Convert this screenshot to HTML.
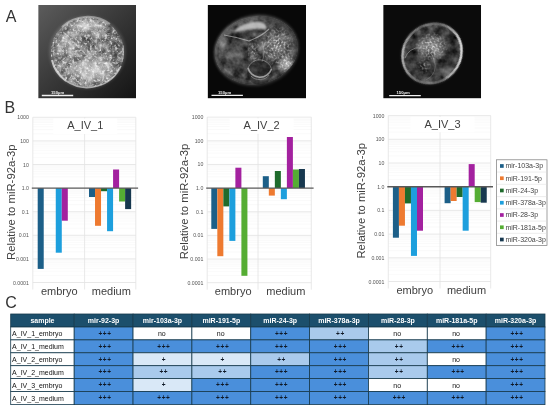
<!DOCTYPE html>
<html><head><meta charset="utf-8"><title>Figure</title>
<style>
html,body{margin:0;padding:0;background:#fff;}
body{width:550px;height:410px;overflow:hidden;}
svg{display:block;font-family:"Liberation Sans",Arial,sans-serif;}
</style></head><body>
<svg width="550" height="410" viewBox="0 0 550 410">
<defs>
<linearGradient id="bg1" x1="0" y1="0" x2="1" y2="1">
<stop offset="0" stop-color="#5c5c5c"/><stop offset="0.45" stop-color="#3a3a3a"/><stop offset="1" stop-color="#141414"/>
</linearGradient>
<radialGradient id="e1g" cx="0.5" cy="0.55" r="0.5">
<stop offset="0" stop-color="#8a8a8a"/><stop offset="0.6" stop-color="#868686"/><stop offset="0.9" stop-color="#7a7a7a"/><stop offset="1" stop-color="#6a6a6a"/>
</radialGradient>
<radialGradient id="e2g" cx="0.5" cy="0.5" r="0.5">
<stop offset="0" stop-color="#484848"/><stop offset="0.7" stop-color="#3c3c3c"/><stop offset="0.9" stop-color="#4a4a4a"/><stop offset="1" stop-color="#151515"/>
</radialGradient>
<radialGradient id="e3g" cx="0.5" cy="0.5" r="0.5">
<stop offset="0" stop-color="#3e3e3e"/><stop offset="0.75" stop-color="#343434"/><stop offset="0.92" stop-color="#484848"/><stop offset="1" stop-color="#222"/>
</radialGradient>
<radialGradient id="glow" cx="0.5" cy="0.5" r="0.5">
<stop offset="0" stop-color="#fff" stop-opacity="0.75"/><stop offset="0.6" stop-color="#fff" stop-opacity="0.35"/><stop offset="1" stop-color="#fff" stop-opacity="0"/>
</radialGradient>
<radialGradient id="shade" cx="0.5" cy="0.5" r="0.5">
<stop offset="0" stop-color="#000" stop-opacity="0.5"/><stop offset="1" stop-color="#000" stop-opacity="0"/>
</radialGradient>
<filter id="tex" x="-5%" y="-5%" width="110%" height="110%" color-interpolation-filters="sRGB">
<feTurbulence type="fractalNoise" baseFrequency="0.16" numOctaves="3" seed="7" result="n"/>
<feColorMatrix in="n" type="matrix" values="0.7 0 0 0 0.15  0.7 0 0 0 0.15  0.7 0 0 0 0.15  0 0 0 0 1" result="g"/>
<feComposite in="g" in2="SourceGraphic" operator="in" result="gi"/>
<feBlend in="gi" in2="SourceGraphic" mode="overlay" result="ov"/>
<feTurbulence type="fractalNoise" baseFrequency="0.4" numOctaves="3" seed="3" result="n2"/>
<feColorMatrix in="n2" type="matrix" values="2.0 0 0 0 -0.95  2.0 0 0 0 -0.95  2.0 0 0 0 -0.95  0 0 0 0 1" result="sp"/>
<feComposite in="sp" in2="SourceGraphic" operator="in" result="spi"/>
<feBlend in="spi" in2="ov" mode="screen"/>
</filter>
<filter id="tex2" x="-5%" y="-5%" width="110%" height="110%" color-interpolation-filters="sRGB">
<feTurbulence type="fractalNoise" baseFrequency="0.18" numOctaves="3" seed="11" result="n"/>
<feColorMatrix in="n" type="matrix" values="1.0 0 0 0 0.0  1.0 0 0 0 0.0  1.0 0 0 0 0.0  0 0 0 0 1" result="g"/>
<feComposite in="g" in2="SourceGraphic" operator="in" result="gi"/>
<feBlend in="gi" in2="SourceGraphic" mode="overlay" result="ov"/>
<feTurbulence type="fractalNoise" baseFrequency="0.45" numOctaves="3" seed="5" result="n2"/>
<feColorMatrix in="n2" type="matrix" values="2.6 0 0 0 -1.3  2.6 0 0 0 -1.3  2.6 0 0 0 -1.3  0 0 0 0 1" result="sp"/>
<feComposite in="sp" in2="SourceGraphic" operator="in" result="spi"/>
<feBlend in="spi" in2="ov" mode="screen"/>
</filter>
<filter id="soft" x="-5%" y="-5%" width="110%" height="110%" color-interpolation-filters="sRGB">
<feTurbulence type="fractalNoise" baseFrequency="0.12" numOctaves="3" seed="21" result="n"/>
<feColorMatrix in="n" type="matrix" values="1.1 0 0 0 -0.05  1.1 0 0 0 -0.05  1.1 0 0 0 -0.05  0 0 0 0 1" result="g"/>
<feComposite in="g" in2="SourceGraphic" operator="in" result="gi"/>
<feBlend in="gi" in2="SourceGraphic" mode="overlay"/>
</filter>
<filter id="speck" x="-5%" y="-5%" width="110%" height="110%" color-interpolation-filters="sRGB">
<feTurbulence type="fractalNoise" baseFrequency="0.5" numOctaves="3" seed="9" result="n"/>
<feColorMatrix in="n" type="matrix" values="0 0 0 0 1  0 0 0 0 1  0 0 0 0 1  3.2 0 0 0 -1.35" result="a"/>
<feComposite in="a" in2="SourceGraphic" operator="in"/>
</filter>
<clipPath id="ce2"><ellipse cx="256.4" cy="50.3" rx="41.8" ry="33.8" transform="rotate(-12 256.4 50.3)"/></clipPath>
<clipPath id="ce3"><ellipse cx="432" cy="53.5" rx="29.2" ry="31.8" transform="rotate(42 432 53.5)"/></clipPath>
<linearGradient id="rim3" x1="0" y1="1" x2="1" y2="0">
<stop offset="0" stop-color="#fff" stop-opacity="0.85"/><stop offset="0.3" stop-color="#fff" stop-opacity="0.3"/><stop offset="0.6" stop-color="#fff" stop-opacity="0.25"/><stop offset="0.85" stop-color="#fff" stop-opacity="0.8"/><stop offset="1" stop-color="#fff" stop-opacity="0.8"/>
</linearGradient>
<linearGradient id="rim2" x1="0" y1="0" x2="1" y2="1">
<stop offset="0" stop-color="#fff" stop-opacity="0.5"/><stop offset="0.4" stop-color="#fff" stop-opacity="0.2"/><stop offset="1" stop-color="#fff" stop-opacity="0.12"/>
</linearGradient>
<filter id="b15" x="-30%" y="-30%" width="160%" height="160%"><feGaussianBlur stdDeviation="1.1"/></filter>
<filter id="b1" x="-20%" y="-20%" width="140%" height="140%"><feGaussianBlur stdDeviation="0.7"/></filter>
<filter id="b2" x="-30%" y="-30%" width="160%" height="160%"><feGaussianBlur stdDeviation="1.6"/></filter>
<clipPath id="c1"><rect x="38.2" y="4.9" width="97.8" height="93.5"/></clipPath>
<clipPath id="c2"><rect x="207.6" y="4.9" width="98.4" height="93.5"/></clipPath>
<clipPath id="c3"><rect x="383.2" y="4.9" width="97.9" height="93.5"/></clipPath>
</defs>
<rect width="550" height="410" fill="#fff"/>
<text x="5.7" y="21.8" font-size="16" fill="#333">A</text>
<text x="4.6" y="112.6" font-size="16" fill="#333">B</text>
<text x="5.2" y="307.6" font-size="16" fill="#333">C</text>
<g clip-path="url(#c1)">
<rect x="38.2" y="4.9" width="97.8" height="93.5" fill="url(#bg1)"/>
<ellipse cx="87.4" cy="52.2" rx="38" ry="36.3" fill="#fff" opacity="0.18" filter="url(#b2)"/>
<g filter="url(#tex)">
<ellipse cx="87.4" cy="52.2" rx="36.6" ry="34.9" fill="url(#e1g)"/>
<ellipse cx="92" cy="70" rx="26" ry="15" fill="url(#glow)" opacity="0.8"/>
<ellipse cx="86" cy="25" rx="24" ry="8" fill="url(#glow)" opacity="0.85"/>
<ellipse cx="66" cy="42" rx="13" ry="14" fill="url(#glow)" opacity="0.45"/>
<ellipse cx="88" cy="44" rx="15" ry="11" fill="url(#shade)" opacity="0.55"/>
<ellipse cx="116" cy="50" rx="8" ry="22" fill="url(#shade)" opacity="0.7"/>
</g>
<path d="M62 27 A36.6 35 0 0 1 110 24" fill="none" stroke="#e8e8e8" stroke-width="2" opacity="0.45" filter="url(#b1)"/>
<path d="M121 66 A36.6 35 0 0 1 66 81" fill="none" stroke="#f0f0f0" stroke-width="1.5" opacity="0.6" filter="url(#b1)"/>
<path d="M66 81 A36.6 35 0 0 1 52 60" fill="none" stroke="#f4f4f4" stroke-width="2" opacity="0.7" filter="url(#b1)"/>
<path d="M123 45 A36.6 35 0 0 1 122 62" fill="none" stroke="#ddd" stroke-width="1" opacity="0.5" filter="url(#b1)"/>
<circle cx="88" cy="42" r="13" fill="none" stroke="#bbb" stroke-width="0.8" opacity="0.45" filter="url(#b1)"/>
<line x1="41.8" x2="73.2" y1="95.5" y2="95.5" stroke="#f2f2f2" stroke-width="1.3"/>
<text x="57.6" y="93.6" font-size="4.2" font-weight="bold" fill="#eee" text-anchor="middle">150µm</text>
</g>
<g clip-path="url(#c2)">
<rect x="207.6" y="4.9" width="98.4" height="93.5" fill="#080808"/>
<ellipse cx="256.4" cy="50.3" rx="43" ry="36" fill="#fff" opacity="0.10" filter="url(#b2)" transform="rotate(-12 256.4 50.3)"/>
<g clip-path="url(#ce2)">
<g filter="url(#soft)">
<ellipse cx="256.4" cy="50.3" rx="41.8" ry="33.8" fill="url(#e2g)" transform="rotate(-12 256.4 50.3)"/>
</g>
<ellipse cx="277" cy="46" rx="19" ry="22" fill="url(#glow)" opacity="0.35"/>
<ellipse cx="286" cy="64" rx="10" ry="9" fill="url(#glow)" opacity="0.8"/>
<ellipse cx="236" cy="55" rx="12" ry="9" fill="url(#glow)" opacity="0.3"/>
<ellipse cx="224" cy="44" rx="6" ry="9" fill="url(#glow)" opacity="0.4"/>
<g filter="url(#speck)">
<ellipse cx="277" cy="46" rx="19" ry="22" fill="url(#glow)"/>
<ellipse cx="286" cy="64" rx="11" ry="10" fill="url(#glow)"/>
<ellipse cx="254" cy="52" rx="8" ry="14" fill="url(#glow)" opacity="0.7"/>
</g>
</g>
<path d="M234 32 Q240 22 258 21.5 Q268 23 266 29 Q256 28 248 30 Q240 32 234 32Z" fill="#e0e0e0" opacity="0.75" filter="url(#b15)"/>
<path d="M224 35 Q236 37 249 41 Q262 36 269 29" fill="none" stroke="#e6e6e6" stroke-width="1.2" opacity="0.5" filter="url(#b1)"/>
<ellipse cx="256.4" cy="50.3" rx="41" ry="33" transform="rotate(-12 256.4 50.3)" fill="none" stroke="url(#rim2)" stroke-width="2.4" filter="url(#b15)"/>
<path d="M262 42 Q266 52 262 62" fill="none" stroke="#ccc" stroke-width="1" opacity="0.35" filter="url(#b1)"/>
<circle cx="259.6" cy="72.5" r="12.3" fill="#111" opacity="0.35"/>
<path d="M248 68 A12.3 12.3 0 0 0 271.5 69 " fill="none" stroke="#e0e0e0" stroke-width="1.6" opacity="0.6" filter="url(#b1)"/>
<path d="M248 68 A12.3 12.3 0 0 1 271.5 69 " fill="none" stroke="#bbb" stroke-width="1" opacity="0.45" filter="url(#b1)"/>
<path d="M251 76 A10 7 0 0 0 269 75" fill="none" stroke="#bbb" stroke-width="1" opacity="0.45" filter="url(#b1)"/>
<line x1="211.5" x2="242.9" y1="95.4" y2="95.4" stroke="#f2f2f2" stroke-width="1.3"/>
<text x="224.6" y="93.5" font-size="4.2" font-weight="bold" fill="#eee" text-anchor="middle">150µm</text>
</g>
<g clip-path="url(#c3)">
<rect x="383.2" y="4.9" width="97.9" height="93.5" fill="#0b0b0b"/>
<ellipse cx="432" cy="53.5" rx="30" ry="32.6" fill="#fff" opacity="0.10" filter="url(#b2)" transform="rotate(42 432 53.5)"/>
<g clip-path="url(#ce3)">
<g filter="url(#soft)">
<ellipse cx="432" cy="53.5" rx="29.2" ry="31.8" fill="url(#e3g)" transform="rotate(42 432 53.5)"/>
</g>
<ellipse cx="432" cy="46.5" rx="17" ry="15" fill="url(#glow)" opacity="0.55"/>
<ellipse cx="448" cy="72" rx="9" ry="7" fill="url(#glow)" opacity="0.4"/>
<g filter="url(#speck)">
<ellipse cx="432" cy="46.5" rx="18" ry="16" fill="url(#glow)"/>
<ellipse cx="424" cy="66" rx="10" ry="9" fill="url(#glow)" opacity="0.5"/>
</g>
</g>
<ellipse cx="432" cy="53.5" rx="28.4" ry="31" transform="rotate(42 432 53.5)" fill="none" stroke="url(#rim3)" stroke-width="2.4" filter="url(#b1)"/>
<path d="M405 58 A15 15 0 0 1 434 60 " fill="none" stroke="#bbb" stroke-width="0.9" opacity="0.5" filter="url(#b1)"/>
<path d="M434 60 A15 15 0 0 1 426 80" fill="none" stroke="#aaa" stroke-width="0.8" opacity="0.4" filter="url(#b1)"/>
<line x1="389.2" x2="420.8" y1="95.7" y2="95.7" stroke="#f2f2f2" stroke-width="1.3"/>
<text x="403.1" y="93.7" font-size="4.2" font-weight="bold" fill="#eee" text-anchor="middle">150µm</text>
</g>
<g>
<line x1="32.8" x2="135.8" y1="133.80" y2="133.80" stroke="#f4f4f4" stroke-width="0.5"/>
<line x1="32.8" x2="135.8" y1="129.64" y2="129.64" stroke="#f4f4f4" stroke-width="0.5"/>
<line x1="32.8" x2="135.8" y1="126.69" y2="126.69" stroke="#f4f4f4" stroke-width="0.5"/>
<line x1="32.8" x2="135.8" y1="124.40" y2="124.40" stroke="#f4f4f4" stroke-width="0.5"/>
<line x1="32.8" x2="135.8" y1="122.54" y2="122.54" stroke="#f4f4f4" stroke-width="0.5"/>
<line x1="32.8" x2="135.8" y1="120.96" y2="120.96" stroke="#f4f4f4" stroke-width="0.5"/>
<line x1="32.8" x2="135.8" y1="119.59" y2="119.59" stroke="#f4f4f4" stroke-width="0.5"/>
<line x1="32.8" x2="135.8" y1="118.38" y2="118.38" stroke="#f4f4f4" stroke-width="0.5"/>
<line x1="32.8" x2="135.8" y1="157.40" y2="157.40" stroke="#f4f4f4" stroke-width="0.5"/>
<line x1="32.8" x2="135.8" y1="153.24" y2="153.24" stroke="#f4f4f4" stroke-width="0.5"/>
<line x1="32.8" x2="135.8" y1="150.29" y2="150.29" stroke="#f4f4f4" stroke-width="0.5"/>
<line x1="32.8" x2="135.8" y1="148.00" y2="148.00" stroke="#f4f4f4" stroke-width="0.5"/>
<line x1="32.8" x2="135.8" y1="146.14" y2="146.14" stroke="#f4f4f4" stroke-width="0.5"/>
<line x1="32.8" x2="135.8" y1="144.56" y2="144.56" stroke="#f4f4f4" stroke-width="0.5"/>
<line x1="32.8" x2="135.8" y1="143.19" y2="143.19" stroke="#f4f4f4" stroke-width="0.5"/>
<line x1="32.8" x2="135.8" y1="141.98" y2="141.98" stroke="#f4f4f4" stroke-width="0.5"/>
<line x1="32.8" x2="135.8" y1="181.00" y2="181.00" stroke="#f4f4f4" stroke-width="0.5"/>
<line x1="32.8" x2="135.8" y1="176.84" y2="176.84" stroke="#f4f4f4" stroke-width="0.5"/>
<line x1="32.8" x2="135.8" y1="173.89" y2="173.89" stroke="#f4f4f4" stroke-width="0.5"/>
<line x1="32.8" x2="135.8" y1="171.60" y2="171.60" stroke="#f4f4f4" stroke-width="0.5"/>
<line x1="32.8" x2="135.8" y1="169.74" y2="169.74" stroke="#f4f4f4" stroke-width="0.5"/>
<line x1="32.8" x2="135.8" y1="168.16" y2="168.16" stroke="#f4f4f4" stroke-width="0.5"/>
<line x1="32.8" x2="135.8" y1="166.79" y2="166.79" stroke="#f4f4f4" stroke-width="0.5"/>
<line x1="32.8" x2="135.8" y1="165.58" y2="165.58" stroke="#f4f4f4" stroke-width="0.5"/>
<line x1="32.8" x2="135.8" y1="204.60" y2="204.60" stroke="#f4f4f4" stroke-width="0.5"/>
<line x1="32.8" x2="135.8" y1="200.44" y2="200.44" stroke="#f4f4f4" stroke-width="0.5"/>
<line x1="32.8" x2="135.8" y1="197.49" y2="197.49" stroke="#f4f4f4" stroke-width="0.5"/>
<line x1="32.8" x2="135.8" y1="195.20" y2="195.20" stroke="#f4f4f4" stroke-width="0.5"/>
<line x1="32.8" x2="135.8" y1="193.34" y2="193.34" stroke="#f4f4f4" stroke-width="0.5"/>
<line x1="32.8" x2="135.8" y1="191.76" y2="191.76" stroke="#f4f4f4" stroke-width="0.5"/>
<line x1="32.8" x2="135.8" y1="190.39" y2="190.39" stroke="#f4f4f4" stroke-width="0.5"/>
<line x1="32.8" x2="135.8" y1="189.18" y2="189.18" stroke="#f4f4f4" stroke-width="0.5"/>
<line x1="32.8" x2="135.8" y1="228.20" y2="228.20" stroke="#f4f4f4" stroke-width="0.5"/>
<line x1="32.8" x2="135.8" y1="224.04" y2="224.04" stroke="#f4f4f4" stroke-width="0.5"/>
<line x1="32.8" x2="135.8" y1="221.09" y2="221.09" stroke="#f4f4f4" stroke-width="0.5"/>
<line x1="32.8" x2="135.8" y1="218.80" y2="218.80" stroke="#f4f4f4" stroke-width="0.5"/>
<line x1="32.8" x2="135.8" y1="216.94" y2="216.94" stroke="#f4f4f4" stroke-width="0.5"/>
<line x1="32.8" x2="135.8" y1="215.36" y2="215.36" stroke="#f4f4f4" stroke-width="0.5"/>
<line x1="32.8" x2="135.8" y1="213.99" y2="213.99" stroke="#f4f4f4" stroke-width="0.5"/>
<line x1="32.8" x2="135.8" y1="212.78" y2="212.78" stroke="#f4f4f4" stroke-width="0.5"/>
<line x1="32.8" x2="135.8" y1="251.80" y2="251.80" stroke="#f4f4f4" stroke-width="0.5"/>
<line x1="32.8" x2="135.8" y1="247.64" y2="247.64" stroke="#f4f4f4" stroke-width="0.5"/>
<line x1="32.8" x2="135.8" y1="244.69" y2="244.69" stroke="#f4f4f4" stroke-width="0.5"/>
<line x1="32.8" x2="135.8" y1="242.40" y2="242.40" stroke="#f4f4f4" stroke-width="0.5"/>
<line x1="32.8" x2="135.8" y1="240.54" y2="240.54" stroke="#f4f4f4" stroke-width="0.5"/>
<line x1="32.8" x2="135.8" y1="238.96" y2="238.96" stroke="#f4f4f4" stroke-width="0.5"/>
<line x1="32.8" x2="135.8" y1="237.59" y2="237.59" stroke="#f4f4f4" stroke-width="0.5"/>
<line x1="32.8" x2="135.8" y1="236.38" y2="236.38" stroke="#f4f4f4" stroke-width="0.5"/>
<line x1="32.8" x2="135.8" y1="275.40" y2="275.40" stroke="#f4f4f4" stroke-width="0.5"/>
<line x1="32.8" x2="135.8" y1="271.24" y2="271.24" stroke="#f4f4f4" stroke-width="0.5"/>
<line x1="32.8" x2="135.8" y1="268.29" y2="268.29" stroke="#f4f4f4" stroke-width="0.5"/>
<line x1="32.8" x2="135.8" y1="266.00" y2="266.00" stroke="#f4f4f4" stroke-width="0.5"/>
<line x1="32.8" x2="135.8" y1="264.14" y2="264.14" stroke="#f4f4f4" stroke-width="0.5"/>
<line x1="32.8" x2="135.8" y1="262.56" y2="262.56" stroke="#f4f4f4" stroke-width="0.5"/>
<line x1="32.8" x2="135.8" y1="261.19" y2="261.19" stroke="#f4f4f4" stroke-width="0.5"/>
<line x1="32.8" x2="135.8" y1="259.98" y2="259.98" stroke="#f4f4f4" stroke-width="0.5"/>
<line x1="32.8" x2="135.8" y1="117.30" y2="117.30" stroke="#e2e2e2" stroke-width="0.8"/>
<line x1="32.8" x2="135.8" y1="140.90" y2="140.90" stroke="#e2e2e2" stroke-width="0.8"/>
<line x1="32.8" x2="135.8" y1="164.50" y2="164.50" stroke="#e2e2e2" stroke-width="0.8"/>
<line x1="32.8" x2="135.8" y1="211.70" y2="211.70" stroke="#e2e2e2" stroke-width="0.8"/>
<line x1="32.8" x2="135.8" y1="235.30" y2="235.30" stroke="#e2e2e2" stroke-width="0.8"/>
<line x1="32.8" x2="135.8" y1="258.90" y2="258.90" stroke="#e2e2e2" stroke-width="0.8"/>
<line x1="32.8" x2="135.8" y1="282.50" y2="282.50" stroke="#e2e2e2" stroke-width="0.8"/>
<line x1="32.8" x2="32.8" y1="117.30" y2="289.50" stroke="#e2e2e2" stroke-width="0.8"/>
<line x1="84.6" x2="84.6" y1="117.30" y2="289.50" stroke="#e2e2e2" stroke-width="0.8"/>
<line x1="135.8" x2="135.8" y1="117.30" y2="289.50" stroke="#e2e2e2" stroke-width="0.8"/>
<rect x="53.3" y="118.50" width="64" height="15.5" fill="#fff"/>
<text x="85.3" y="129.20" font-size="11" fill="#404040" text-anchor="middle">A_IV_1</text>
<rect x="37.70" y="188.10" width="6.02" height="80.80" fill="#1c5f88"/>
<rect x="55.76" y="188.10" width="6.02" height="64.60" fill="#1d9fdd"/>
<rect x="61.78" y="188.10" width="6.02" height="32.60" fill="#a3219f"/>
<rect x="89.00" y="188.10" width="6.02" height="8.90" fill="#1c5f88"/>
<rect x="95.02" y="188.10" width="6.02" height="37.70" fill="#ee7a30"/>
<rect x="101.04" y="188.10" width="6.02" height="3.10" fill="#1f6b2c"/>
<rect x="107.06" y="188.10" width="6.02" height="43.10" fill="#1d9fdd"/>
<rect x="113.08" y="169.50" width="6.02" height="18.60" fill="#a3219f"/>
<rect x="119.10" y="188.10" width="6.02" height="13.40" fill="#55ad33"/>
<rect x="125.12" y="188.10" width="6.02" height="21.00" fill="#17384f"/>
<line x1="31.799999999999997" x2="138.10000000000002" y1="188.1" y2="188.1" stroke="#595959" stroke-width="1.4"/>
<text x="28.9" y="119.30" font-size="5.2" fill="#555" text-anchor="end">1000</text>
<text x="28.9" y="142.90" font-size="5.2" fill="#555" text-anchor="end">100</text>
<text x="28.9" y="166.50" font-size="5.2" fill="#555" text-anchor="end">10</text>
<text x="28.9" y="190.10" font-size="5.2" fill="#555" text-anchor="end">1.0</text>
<text x="28.9" y="213.70" font-size="5.2" fill="#555" text-anchor="end">0.1</text>
<text x="28.9" y="237.30" font-size="5.2" fill="#555" text-anchor="end">0.01</text>
<text x="28.9" y="260.90" font-size="5.2" fill="#555" text-anchor="end">0.001</text>
<text x="28.9" y="284.50" font-size="5.2" fill="#555" text-anchor="end">0.0001</text>
<text x="59.3" y="294.60" font-size="11" fill="#404040" text-anchor="middle">embryo</text>
<text x="111.3" y="294.60" font-size="11" fill="#404040" text-anchor="middle">medium</text>
<text transform="translate(15.1,202.2) rotate(-90)" font-size="11.3" fill="#404040" text-anchor="middle">Relative to miR-92a-3p</text>
</g>
<g>
<line x1="207.2" x2="311.3" y1="133.68" y2="133.68" stroke="#f4f4f4" stroke-width="0.5"/>
<line x1="207.2" x2="311.3" y1="129.52" y2="129.52" stroke="#f4f4f4" stroke-width="0.5"/>
<line x1="207.2" x2="311.3" y1="126.56" y2="126.56" stroke="#f4f4f4" stroke-width="0.5"/>
<line x1="207.2" x2="311.3" y1="124.27" y2="124.27" stroke="#f4f4f4" stroke-width="0.5"/>
<line x1="207.2" x2="311.3" y1="122.40" y2="122.40" stroke="#f4f4f4" stroke-width="0.5"/>
<line x1="207.2" x2="311.3" y1="120.81" y2="120.81" stroke="#f4f4f4" stroke-width="0.5"/>
<line x1="207.2" x2="311.3" y1="119.44" y2="119.44" stroke="#f4f4f4" stroke-width="0.5"/>
<line x1="207.2" x2="311.3" y1="118.23" y2="118.23" stroke="#f4f4f4" stroke-width="0.5"/>
<line x1="207.2" x2="311.3" y1="157.33" y2="157.33" stroke="#f4f4f4" stroke-width="0.5"/>
<line x1="207.2" x2="311.3" y1="153.17" y2="153.17" stroke="#f4f4f4" stroke-width="0.5"/>
<line x1="207.2" x2="311.3" y1="150.21" y2="150.21" stroke="#f4f4f4" stroke-width="0.5"/>
<line x1="207.2" x2="311.3" y1="147.92" y2="147.92" stroke="#f4f4f4" stroke-width="0.5"/>
<line x1="207.2" x2="311.3" y1="146.05" y2="146.05" stroke="#f4f4f4" stroke-width="0.5"/>
<line x1="207.2" x2="311.3" y1="144.46" y2="144.46" stroke="#f4f4f4" stroke-width="0.5"/>
<line x1="207.2" x2="311.3" y1="143.09" y2="143.09" stroke="#f4f4f4" stroke-width="0.5"/>
<line x1="207.2" x2="311.3" y1="141.88" y2="141.88" stroke="#f4f4f4" stroke-width="0.5"/>
<line x1="207.2" x2="311.3" y1="180.98" y2="180.98" stroke="#f4f4f4" stroke-width="0.5"/>
<line x1="207.2" x2="311.3" y1="176.82" y2="176.82" stroke="#f4f4f4" stroke-width="0.5"/>
<line x1="207.2" x2="311.3" y1="173.86" y2="173.86" stroke="#f4f4f4" stroke-width="0.5"/>
<line x1="207.2" x2="311.3" y1="171.57" y2="171.57" stroke="#f4f4f4" stroke-width="0.5"/>
<line x1="207.2" x2="311.3" y1="169.70" y2="169.70" stroke="#f4f4f4" stroke-width="0.5"/>
<line x1="207.2" x2="311.3" y1="168.11" y2="168.11" stroke="#f4f4f4" stroke-width="0.5"/>
<line x1="207.2" x2="311.3" y1="166.74" y2="166.74" stroke="#f4f4f4" stroke-width="0.5"/>
<line x1="207.2" x2="311.3" y1="165.53" y2="165.53" stroke="#f4f4f4" stroke-width="0.5"/>
<line x1="207.2" x2="311.3" y1="204.63" y2="204.63" stroke="#f4f4f4" stroke-width="0.5"/>
<line x1="207.2" x2="311.3" y1="200.47" y2="200.47" stroke="#f4f4f4" stroke-width="0.5"/>
<line x1="207.2" x2="311.3" y1="197.51" y2="197.51" stroke="#f4f4f4" stroke-width="0.5"/>
<line x1="207.2" x2="311.3" y1="195.22" y2="195.22" stroke="#f4f4f4" stroke-width="0.5"/>
<line x1="207.2" x2="311.3" y1="193.35" y2="193.35" stroke="#f4f4f4" stroke-width="0.5"/>
<line x1="207.2" x2="311.3" y1="191.76" y2="191.76" stroke="#f4f4f4" stroke-width="0.5"/>
<line x1="207.2" x2="311.3" y1="190.39" y2="190.39" stroke="#f4f4f4" stroke-width="0.5"/>
<line x1="207.2" x2="311.3" y1="189.18" y2="189.18" stroke="#f4f4f4" stroke-width="0.5"/>
<line x1="207.2" x2="311.3" y1="228.28" y2="228.28" stroke="#f4f4f4" stroke-width="0.5"/>
<line x1="207.2" x2="311.3" y1="224.12" y2="224.12" stroke="#f4f4f4" stroke-width="0.5"/>
<line x1="207.2" x2="311.3" y1="221.16" y2="221.16" stroke="#f4f4f4" stroke-width="0.5"/>
<line x1="207.2" x2="311.3" y1="218.87" y2="218.87" stroke="#f4f4f4" stroke-width="0.5"/>
<line x1="207.2" x2="311.3" y1="217.00" y2="217.00" stroke="#f4f4f4" stroke-width="0.5"/>
<line x1="207.2" x2="311.3" y1="215.41" y2="215.41" stroke="#f4f4f4" stroke-width="0.5"/>
<line x1="207.2" x2="311.3" y1="214.04" y2="214.04" stroke="#f4f4f4" stroke-width="0.5"/>
<line x1="207.2" x2="311.3" y1="212.83" y2="212.83" stroke="#f4f4f4" stroke-width="0.5"/>
<line x1="207.2" x2="311.3" y1="251.93" y2="251.93" stroke="#f4f4f4" stroke-width="0.5"/>
<line x1="207.2" x2="311.3" y1="247.77" y2="247.77" stroke="#f4f4f4" stroke-width="0.5"/>
<line x1="207.2" x2="311.3" y1="244.81" y2="244.81" stroke="#f4f4f4" stroke-width="0.5"/>
<line x1="207.2" x2="311.3" y1="242.52" y2="242.52" stroke="#f4f4f4" stroke-width="0.5"/>
<line x1="207.2" x2="311.3" y1="240.65" y2="240.65" stroke="#f4f4f4" stroke-width="0.5"/>
<line x1="207.2" x2="311.3" y1="239.06" y2="239.06" stroke="#f4f4f4" stroke-width="0.5"/>
<line x1="207.2" x2="311.3" y1="237.69" y2="237.69" stroke="#f4f4f4" stroke-width="0.5"/>
<line x1="207.2" x2="311.3" y1="236.48" y2="236.48" stroke="#f4f4f4" stroke-width="0.5"/>
<line x1="207.2" x2="311.3" y1="275.58" y2="275.58" stroke="#f4f4f4" stroke-width="0.5"/>
<line x1="207.2" x2="311.3" y1="271.42" y2="271.42" stroke="#f4f4f4" stroke-width="0.5"/>
<line x1="207.2" x2="311.3" y1="268.46" y2="268.46" stroke="#f4f4f4" stroke-width="0.5"/>
<line x1="207.2" x2="311.3" y1="266.17" y2="266.17" stroke="#f4f4f4" stroke-width="0.5"/>
<line x1="207.2" x2="311.3" y1="264.30" y2="264.30" stroke="#f4f4f4" stroke-width="0.5"/>
<line x1="207.2" x2="311.3" y1="262.71" y2="262.71" stroke="#f4f4f4" stroke-width="0.5"/>
<line x1="207.2" x2="311.3" y1="261.34" y2="261.34" stroke="#f4f4f4" stroke-width="0.5"/>
<line x1="207.2" x2="311.3" y1="260.13" y2="260.13" stroke="#f4f4f4" stroke-width="0.5"/>
<line x1="207.2" x2="311.3" y1="117.15" y2="117.15" stroke="#e2e2e2" stroke-width="0.8"/>
<line x1="207.2" x2="311.3" y1="140.80" y2="140.80" stroke="#e2e2e2" stroke-width="0.8"/>
<line x1="207.2" x2="311.3" y1="164.45" y2="164.45" stroke="#e2e2e2" stroke-width="0.8"/>
<line x1="207.2" x2="311.3" y1="211.75" y2="211.75" stroke="#e2e2e2" stroke-width="0.8"/>
<line x1="207.2" x2="311.3" y1="235.40" y2="235.40" stroke="#e2e2e2" stroke-width="0.8"/>
<line x1="207.2" x2="311.3" y1="259.05" y2="259.05" stroke="#e2e2e2" stroke-width="0.8"/>
<line x1="207.2" x2="311.3" y1="282.70" y2="282.70" stroke="#e2e2e2" stroke-width="0.8"/>
<line x1="207.2" x2="207.2" y1="117.15" y2="289.70" stroke="#e2e2e2" stroke-width="0.8"/>
<line x1="258.0" x2="258.0" y1="117.15" y2="289.70" stroke="#e2e2e2" stroke-width="0.8"/>
<line x1="311.3" x2="311.3" y1="117.15" y2="289.70" stroke="#e2e2e2" stroke-width="0.8"/>
<rect x="229.60000000000002" y="118.35" width="64" height="15.5" fill="#fff"/>
<text x="261.6" y="129.05" font-size="11" fill="#404040" text-anchor="middle">A_IV_2</text>
<rect x="211.30" y="188.10" width="6.02" height="40.80" fill="#1c5f88"/>
<rect x="217.32" y="188.10" width="6.02" height="68.10" fill="#ee7a30"/>
<rect x="223.34" y="188.10" width="6.02" height="18.30" fill="#1f6b2c"/>
<rect x="229.36" y="188.10" width="6.02" height="52.80" fill="#1d9fdd"/>
<rect x="235.38" y="167.70" width="6.02" height="20.40" fill="#a3219f"/>
<rect x="241.40" y="188.10" width="6.02" height="87.70" fill="#55ad33"/>
<rect x="262.80" y="176.20" width="6.02" height="11.90" fill="#1c5f88"/>
<rect x="268.82" y="188.10" width="6.02" height="7.50" fill="#ee7a30"/>
<rect x="274.84" y="171.00" width="6.02" height="17.10" fill="#1f6b2c"/>
<rect x="280.86" y="188.10" width="6.02" height="11.10" fill="#1d9fdd"/>
<rect x="286.88" y="137.00" width="6.02" height="51.10" fill="#a3219f"/>
<rect x="292.90" y="169.50" width="6.02" height="18.60" fill="#55ad33"/>
<rect x="298.92" y="169.00" width="6.02" height="19.10" fill="#17384f"/>
<line x1="206.2" x2="313.6" y1="188.1" y2="188.1" stroke="#595959" stroke-width="1.4"/>
<text x="203.3" y="119.15" font-size="5.2" fill="#555" text-anchor="end">1000</text>
<text x="203.3" y="142.80" font-size="5.2" fill="#555" text-anchor="end">100</text>
<text x="203.3" y="166.45" font-size="5.2" fill="#555" text-anchor="end">10</text>
<text x="203.3" y="190.10" font-size="5.2" fill="#555" text-anchor="end">1.0</text>
<text x="203.3" y="213.75" font-size="5.2" fill="#555" text-anchor="end">0.1</text>
<text x="203.3" y="237.40" font-size="5.2" fill="#555" text-anchor="end">0.01</text>
<text x="203.3" y="261.05" font-size="5.2" fill="#555" text-anchor="end">0.001</text>
<text x="203.3" y="284.70" font-size="5.2" fill="#555" text-anchor="end">0.0001</text>
<text x="233.2" y="294.80" font-size="11" fill="#404040" text-anchor="middle">embryo</text>
<text x="285.8" y="294.80" font-size="11" fill="#404040" text-anchor="middle">medium</text>
<text transform="translate(187.9,201.5) rotate(-90)" font-size="11.3" fill="#404040" text-anchor="middle">Relative to miR-92a-3p</text>
</g>
<g>
<line x1="388.3" x2="490.7" y1="132.17" y2="132.17" stroke="#f4f4f4" stroke-width="0.5"/>
<line x1="388.3" x2="490.7" y1="127.99" y2="127.99" stroke="#f4f4f4" stroke-width="0.5"/>
<line x1="388.3" x2="490.7" y1="125.03" y2="125.03" stroke="#f4f4f4" stroke-width="0.5"/>
<line x1="388.3" x2="490.7" y1="122.73" y2="122.73" stroke="#f4f4f4" stroke-width="0.5"/>
<line x1="388.3" x2="490.7" y1="120.86" y2="120.86" stroke="#f4f4f4" stroke-width="0.5"/>
<line x1="388.3" x2="490.7" y1="119.27" y2="119.27" stroke="#f4f4f4" stroke-width="0.5"/>
<line x1="388.3" x2="490.7" y1="117.90" y2="117.90" stroke="#f4f4f4" stroke-width="0.5"/>
<line x1="388.3" x2="490.7" y1="116.68" y2="116.68" stroke="#f4f4f4" stroke-width="0.5"/>
<line x1="388.3" x2="490.7" y1="155.87" y2="155.87" stroke="#f4f4f4" stroke-width="0.5"/>
<line x1="388.3" x2="490.7" y1="151.69" y2="151.69" stroke="#f4f4f4" stroke-width="0.5"/>
<line x1="388.3" x2="490.7" y1="148.73" y2="148.73" stroke="#f4f4f4" stroke-width="0.5"/>
<line x1="388.3" x2="490.7" y1="146.43" y2="146.43" stroke="#f4f4f4" stroke-width="0.5"/>
<line x1="388.3" x2="490.7" y1="144.56" y2="144.56" stroke="#f4f4f4" stroke-width="0.5"/>
<line x1="388.3" x2="490.7" y1="142.97" y2="142.97" stroke="#f4f4f4" stroke-width="0.5"/>
<line x1="388.3" x2="490.7" y1="141.60" y2="141.60" stroke="#f4f4f4" stroke-width="0.5"/>
<line x1="388.3" x2="490.7" y1="140.38" y2="140.38" stroke="#f4f4f4" stroke-width="0.5"/>
<line x1="388.3" x2="490.7" y1="179.57" y2="179.57" stroke="#f4f4f4" stroke-width="0.5"/>
<line x1="388.3" x2="490.7" y1="175.39" y2="175.39" stroke="#f4f4f4" stroke-width="0.5"/>
<line x1="388.3" x2="490.7" y1="172.43" y2="172.43" stroke="#f4f4f4" stroke-width="0.5"/>
<line x1="388.3" x2="490.7" y1="170.13" y2="170.13" stroke="#f4f4f4" stroke-width="0.5"/>
<line x1="388.3" x2="490.7" y1="168.26" y2="168.26" stroke="#f4f4f4" stroke-width="0.5"/>
<line x1="388.3" x2="490.7" y1="166.67" y2="166.67" stroke="#f4f4f4" stroke-width="0.5"/>
<line x1="388.3" x2="490.7" y1="165.30" y2="165.30" stroke="#f4f4f4" stroke-width="0.5"/>
<line x1="388.3" x2="490.7" y1="164.08" y2="164.08" stroke="#f4f4f4" stroke-width="0.5"/>
<line x1="388.3" x2="490.7" y1="203.27" y2="203.27" stroke="#f4f4f4" stroke-width="0.5"/>
<line x1="388.3" x2="490.7" y1="199.09" y2="199.09" stroke="#f4f4f4" stroke-width="0.5"/>
<line x1="388.3" x2="490.7" y1="196.13" y2="196.13" stroke="#f4f4f4" stroke-width="0.5"/>
<line x1="388.3" x2="490.7" y1="193.83" y2="193.83" stroke="#f4f4f4" stroke-width="0.5"/>
<line x1="388.3" x2="490.7" y1="191.96" y2="191.96" stroke="#f4f4f4" stroke-width="0.5"/>
<line x1="388.3" x2="490.7" y1="190.37" y2="190.37" stroke="#f4f4f4" stroke-width="0.5"/>
<line x1="388.3" x2="490.7" y1="189.00" y2="189.00" stroke="#f4f4f4" stroke-width="0.5"/>
<line x1="388.3" x2="490.7" y1="187.78" y2="187.78" stroke="#f4f4f4" stroke-width="0.5"/>
<line x1="388.3" x2="490.7" y1="226.97" y2="226.97" stroke="#f4f4f4" stroke-width="0.5"/>
<line x1="388.3" x2="490.7" y1="222.79" y2="222.79" stroke="#f4f4f4" stroke-width="0.5"/>
<line x1="388.3" x2="490.7" y1="219.83" y2="219.83" stroke="#f4f4f4" stroke-width="0.5"/>
<line x1="388.3" x2="490.7" y1="217.53" y2="217.53" stroke="#f4f4f4" stroke-width="0.5"/>
<line x1="388.3" x2="490.7" y1="215.66" y2="215.66" stroke="#f4f4f4" stroke-width="0.5"/>
<line x1="388.3" x2="490.7" y1="214.07" y2="214.07" stroke="#f4f4f4" stroke-width="0.5"/>
<line x1="388.3" x2="490.7" y1="212.70" y2="212.70" stroke="#f4f4f4" stroke-width="0.5"/>
<line x1="388.3" x2="490.7" y1="211.48" y2="211.48" stroke="#f4f4f4" stroke-width="0.5"/>
<line x1="388.3" x2="490.7" y1="250.67" y2="250.67" stroke="#f4f4f4" stroke-width="0.5"/>
<line x1="388.3" x2="490.7" y1="246.49" y2="246.49" stroke="#f4f4f4" stroke-width="0.5"/>
<line x1="388.3" x2="490.7" y1="243.53" y2="243.53" stroke="#f4f4f4" stroke-width="0.5"/>
<line x1="388.3" x2="490.7" y1="241.23" y2="241.23" stroke="#f4f4f4" stroke-width="0.5"/>
<line x1="388.3" x2="490.7" y1="239.36" y2="239.36" stroke="#f4f4f4" stroke-width="0.5"/>
<line x1="388.3" x2="490.7" y1="237.77" y2="237.77" stroke="#f4f4f4" stroke-width="0.5"/>
<line x1="388.3" x2="490.7" y1="236.40" y2="236.40" stroke="#f4f4f4" stroke-width="0.5"/>
<line x1="388.3" x2="490.7" y1="235.18" y2="235.18" stroke="#f4f4f4" stroke-width="0.5"/>
<line x1="388.3" x2="490.7" y1="274.37" y2="274.37" stroke="#f4f4f4" stroke-width="0.5"/>
<line x1="388.3" x2="490.7" y1="270.19" y2="270.19" stroke="#f4f4f4" stroke-width="0.5"/>
<line x1="388.3" x2="490.7" y1="267.23" y2="267.23" stroke="#f4f4f4" stroke-width="0.5"/>
<line x1="388.3" x2="490.7" y1="264.93" y2="264.93" stroke="#f4f4f4" stroke-width="0.5"/>
<line x1="388.3" x2="490.7" y1="263.06" y2="263.06" stroke="#f4f4f4" stroke-width="0.5"/>
<line x1="388.3" x2="490.7" y1="261.47" y2="261.47" stroke="#f4f4f4" stroke-width="0.5"/>
<line x1="388.3" x2="490.7" y1="260.10" y2="260.10" stroke="#f4f4f4" stroke-width="0.5"/>
<line x1="388.3" x2="490.7" y1="258.88" y2="258.88" stroke="#f4f4f4" stroke-width="0.5"/>
<line x1="388.3" x2="490.7" y1="115.60" y2="115.60" stroke="#e2e2e2" stroke-width="0.8"/>
<line x1="388.3" x2="490.7" y1="139.30" y2="139.30" stroke="#e2e2e2" stroke-width="0.8"/>
<line x1="388.3" x2="490.7" y1="163.00" y2="163.00" stroke="#e2e2e2" stroke-width="0.8"/>
<line x1="388.3" x2="490.7" y1="210.40" y2="210.40" stroke="#e2e2e2" stroke-width="0.8"/>
<line x1="388.3" x2="490.7" y1="234.10" y2="234.10" stroke="#e2e2e2" stroke-width="0.8"/>
<line x1="388.3" x2="490.7" y1="257.80" y2="257.80" stroke="#e2e2e2" stroke-width="0.8"/>
<line x1="388.3" x2="490.7" y1="281.50" y2="281.50" stroke="#e2e2e2" stroke-width="0.8"/>
<line x1="388.3" x2="388.3" y1="115.60" y2="288.50" stroke="#e2e2e2" stroke-width="0.8"/>
<line x1="440.0" x2="440.0" y1="115.60" y2="288.50" stroke="#e2e2e2" stroke-width="0.8"/>
<line x1="490.7" x2="490.7" y1="115.60" y2="288.50" stroke="#e2e2e2" stroke-width="0.8"/>
<rect x="410.5" y="116.80" width="64" height="15.5" fill="#fff"/>
<text x="442.5" y="127.50" font-size="11" fill="#404040" text-anchor="middle">A_IV_3</text>
<rect x="392.90" y="186.70" width="6.02" height="51.00" fill="#1c5f88"/>
<rect x="398.92" y="186.70" width="6.02" height="39.00" fill="#ee7a30"/>
<rect x="404.94" y="186.70" width="6.02" height="16.70" fill="#1f6b2c"/>
<rect x="410.96" y="186.70" width="6.02" height="69.20" fill="#1d9fdd"/>
<rect x="416.98" y="186.70" width="6.02" height="44.00" fill="#a3219f"/>
<rect x="444.60" y="186.70" width="6.02" height="16.50" fill="#1c5f88"/>
<rect x="450.62" y="186.70" width="6.02" height="14.30" fill="#ee7a30"/>
<rect x="456.64" y="186.70" width="6.02" height="10.30" fill="#1f6b2c"/>
<rect x="462.66" y="186.70" width="6.02" height="44.00" fill="#1d9fdd"/>
<rect x="468.68" y="164.10" width="6.02" height="22.60" fill="#a3219f"/>
<rect x="474.70" y="186.70" width="6.02" height="15.40" fill="#55ad33"/>
<rect x="480.72" y="186.70" width="6.02" height="16.00" fill="#17384f"/>
<line x1="387.3" x2="493.0" y1="186.7" y2="186.7" stroke="#595959" stroke-width="1.4"/>
<text x="384.4" y="117.60" font-size="5.2" fill="#555" text-anchor="end">1000</text>
<text x="384.4" y="141.30" font-size="5.2" fill="#555" text-anchor="end">100</text>
<text x="384.4" y="165.00" font-size="5.2" fill="#555" text-anchor="end">10</text>
<text x="384.4" y="188.70" font-size="5.2" fill="#555" text-anchor="end">1.0</text>
<text x="384.4" y="212.40" font-size="5.2" fill="#555" text-anchor="end">0.1</text>
<text x="384.4" y="236.10" font-size="5.2" fill="#555" text-anchor="end">0.01</text>
<text x="384.4" y="259.80" font-size="5.2" fill="#555" text-anchor="end">0.001</text>
<text x="384.4" y="283.50" font-size="5.2" fill="#555" text-anchor="end">0.0001</text>
<text x="414.8" y="293.60" font-size="11" fill="#404040" text-anchor="middle">embryo</text>
<text x="466.5" y="293.60" font-size="11" fill="#404040" text-anchor="middle">medium</text>
<text transform="translate(365.2,200.8) rotate(-90)" font-size="11.3" fill="#404040" text-anchor="middle">Relative to miR-92a-3p</text>
</g>
<rect x="496.6" y="159.8" width="50.39999999999998" height="85.79999999999998" fill="#fff" stroke="#7a7a7a" stroke-width="0.7"/>
<rect x="500.0" y="164.13" width="3.7" height="3.7" fill="#1c5f88"/>
<text x="505.4" y="168.33" font-size="7" fill="#444">mir-103a-3p</text>
<line x1="497.1" x2="546.5" y1="172.06" y2="172.06" stroke="#e0e0e0" stroke-width="0.6"/>
<rect x="500.0" y="176.39" width="3.7" height="3.7" fill="#ee7a30"/>
<text x="505.4" y="180.59" font-size="7" fill="#444">miR-191-5p</text>
<line x1="497.1" x2="546.5" y1="184.31" y2="184.31" stroke="#e0e0e0" stroke-width="0.6"/>
<rect x="500.0" y="188.64" width="3.7" height="3.7" fill="#1f6b2c"/>
<text x="505.4" y="192.84" font-size="7" fill="#444">miR-24-3p</text>
<line x1="497.1" x2="546.5" y1="196.57" y2="196.57" stroke="#e0e0e0" stroke-width="0.6"/>
<rect x="500.0" y="200.90" width="3.7" height="3.7" fill="#1d9fdd"/>
<text x="505.4" y="205.10" font-size="7" fill="#444">miR-378a-3p</text>
<line x1="497.1" x2="546.5" y1="208.83" y2="208.83" stroke="#e0e0e0" stroke-width="0.6"/>
<rect x="500.0" y="213.16" width="3.7" height="3.7" fill="#a3219f"/>
<text x="505.4" y="217.36" font-size="7" fill="#444">miR-28-3p</text>
<line x1="497.1" x2="546.5" y1="221.09" y2="221.09" stroke="#e0e0e0" stroke-width="0.6"/>
<rect x="500.0" y="225.41" width="3.7" height="3.7" fill="#55ad33"/>
<text x="505.4" y="229.61" font-size="7" fill="#444">miR-181a-5p</text>
<line x1="497.1" x2="546.5" y1="233.34" y2="233.34" stroke="#e0e0e0" stroke-width="0.6"/>
<rect x="500.0" y="237.67" width="3.7" height="3.7" fill="#17384f"/>
<text x="505.4" y="241.87" font-size="7" fill="#444">miR-320a-3p</text>
<g>
<rect x="10.70" y="314.0" width="63.50" height="13.0" fill="#1c4f6c" stroke="#173a4d" stroke-width="0.8"/>
<text x="42.45" y="322.8" font-size="7" font-weight="bold" fill="#fff" text-anchor="middle">sample</text>
<rect x="74.20" y="314.0" width="58.85" height="13.0" fill="#1c4f6c" stroke="#173a4d" stroke-width="0.8"/>
<text x="103.62" y="322.8" font-size="7" font-weight="bold" fill="#fff" text-anchor="middle">mir-92-3p</text>
<rect x="133.05" y="314.0" width="58.85" height="13.0" fill="#1c4f6c" stroke="#173a4d" stroke-width="0.8"/>
<text x="162.48" y="322.8" font-size="7" font-weight="bold" fill="#fff" text-anchor="middle">mir-103a-3p</text>
<rect x="191.90" y="314.0" width="58.85" height="13.0" fill="#1c4f6c" stroke="#173a4d" stroke-width="0.8"/>
<text x="221.32" y="322.8" font-size="7" font-weight="bold" fill="#fff" text-anchor="middle">miR-191-5p</text>
<rect x="250.75" y="314.0" width="58.85" height="13.0" fill="#1c4f6c" stroke="#173a4d" stroke-width="0.8"/>
<text x="280.18" y="322.8" font-size="7" font-weight="bold" fill="#fff" text-anchor="middle">miR-24-3p</text>
<rect x="309.60" y="314.0" width="58.85" height="13.0" fill="#1c4f6c" stroke="#173a4d" stroke-width="0.8"/>
<text x="339.02" y="322.8" font-size="7" font-weight="bold" fill="#fff" text-anchor="middle">miR-378a-3p</text>
<rect x="368.45" y="314.0" width="58.85" height="13.0" fill="#1c4f6c" stroke="#173a4d" stroke-width="0.8"/>
<text x="397.88" y="322.8" font-size="7" font-weight="bold" fill="#fff" text-anchor="middle">miR-28-3p</text>
<rect x="427.30" y="314.0" width="58.85" height="13.0" fill="#1c4f6c" stroke="#173a4d" stroke-width="0.8"/>
<text x="456.73" y="322.8" font-size="7" font-weight="bold" fill="#fff" text-anchor="middle">miR-181a-5p</text>
<rect x="486.15" y="314.0" width="58.85" height="13.0" fill="#1c4f6c" stroke="#173a4d" stroke-width="0.8"/>
<text x="515.58" y="322.8" font-size="7" font-weight="bold" fill="#fff" text-anchor="middle">miR-320a-3p</text>
<rect x="10.70" y="327.0" width="63.50" height="12.90" fill="#ffffff" stroke="#173a4d" stroke-width="0.8"/>
<text x="12.10" y="336.00" font-size="7" fill="#111">A_IV_1_embryo</text>
<rect x="74.20" y="327.0" width="58.85" height="12.90" fill="#4a8fdb" stroke="#173a4d" stroke-width="0.8"/>
<text x="105.03" y="335.75" font-size="6.5" font-weight="bold" letter-spacing="0.6" fill="#101a28" text-anchor="middle">+++</text>
<rect x="133.05" y="327.0" width="58.85" height="12.90" fill="#ffffff" stroke="#173a4d" stroke-width="0.8"/>
<text x="161.88" y="335.90" font-size="7" font-weight="normal" fill="#111" text-anchor="middle">no</text>
<rect x="191.90" y="327.0" width="58.85" height="12.90" fill="#ffffff" stroke="#173a4d" stroke-width="0.8"/>
<text x="220.72" y="335.90" font-size="7" font-weight="normal" fill="#111" text-anchor="middle">no</text>
<rect x="250.75" y="327.0" width="58.85" height="12.90" fill="#4a8fdb" stroke="#173a4d" stroke-width="0.8"/>
<text x="281.57" y="335.75" font-size="6.5" font-weight="bold" letter-spacing="0.6" fill="#101a28" text-anchor="middle">+++</text>
<rect x="309.60" y="327.0" width="58.85" height="12.90" fill="#a9caec" stroke="#173a4d" stroke-width="0.8"/>
<text x="340.42" y="335.75" font-size="6.5" font-weight="bold" letter-spacing="0.6" fill="#101a28" text-anchor="middle">++</text>
<rect x="368.45" y="327.0" width="58.85" height="12.90" fill="#ffffff" stroke="#173a4d" stroke-width="0.8"/>
<text x="397.27" y="335.90" font-size="7" font-weight="normal" fill="#111" text-anchor="middle">no</text>
<rect x="427.30" y="327.0" width="58.85" height="12.90" fill="#ffffff" stroke="#173a4d" stroke-width="0.8"/>
<text x="456.12" y="335.90" font-size="7" font-weight="normal" fill="#111" text-anchor="middle">no</text>
<rect x="486.15" y="327.0" width="58.85" height="12.90" fill="#4a8fdb" stroke="#173a4d" stroke-width="0.8"/>
<text x="516.98" y="335.75" font-size="6.5" font-weight="bold" letter-spacing="0.6" fill="#101a28" text-anchor="middle">+++</text>
<rect x="10.70" y="339.9" width="63.50" height="12.90" fill="#ffffff" stroke="#173a4d" stroke-width="0.8"/>
<text x="12.10" y="348.90" font-size="7" fill="#111">A_IV_1_medium</text>
<rect x="74.20" y="339.9" width="58.85" height="12.90" fill="#4a8fdb" stroke="#173a4d" stroke-width="0.8"/>
<text x="105.03" y="348.65" font-size="6.5" font-weight="bold" letter-spacing="0.6" fill="#101a28" text-anchor="middle">+++</text>
<rect x="133.05" y="339.9" width="58.85" height="12.90" fill="#4a8fdb" stroke="#173a4d" stroke-width="0.8"/>
<text x="163.88" y="348.65" font-size="6.5" font-weight="bold" letter-spacing="0.6" fill="#101a28" text-anchor="middle">+++</text>
<rect x="191.90" y="339.9" width="58.85" height="12.90" fill="#4a8fdb" stroke="#173a4d" stroke-width="0.8"/>
<text x="222.72" y="348.65" font-size="6.5" font-weight="bold" letter-spacing="0.6" fill="#101a28" text-anchor="middle">+++</text>
<rect x="250.75" y="339.9" width="58.85" height="12.90" fill="#4a8fdb" stroke="#173a4d" stroke-width="0.8"/>
<text x="281.57" y="348.65" font-size="6.5" font-weight="bold" letter-spacing="0.6" fill="#101a28" text-anchor="middle">+++</text>
<rect x="309.60" y="339.9" width="58.85" height="12.90" fill="#4a8fdb" stroke="#173a4d" stroke-width="0.8"/>
<text x="340.42" y="348.65" font-size="6.5" font-weight="bold" letter-spacing="0.6" fill="#101a28" text-anchor="middle">+++</text>
<rect x="368.45" y="339.9" width="58.85" height="12.90" fill="#a9caec" stroke="#173a4d" stroke-width="0.8"/>
<text x="399.27" y="348.65" font-size="6.5" font-weight="bold" letter-spacing="0.6" fill="#101a28" text-anchor="middle">++</text>
<rect x="427.30" y="339.9" width="58.85" height="12.90" fill="#4a8fdb" stroke="#173a4d" stroke-width="0.8"/>
<text x="458.12" y="348.65" font-size="6.5" font-weight="bold" letter-spacing="0.6" fill="#101a28" text-anchor="middle">+++</text>
<rect x="486.15" y="339.9" width="58.85" height="12.90" fill="#4a8fdb" stroke="#173a4d" stroke-width="0.8"/>
<text x="516.98" y="348.65" font-size="6.5" font-weight="bold" letter-spacing="0.6" fill="#101a28" text-anchor="middle">+++</text>
<rect x="10.70" y="352.8" width="63.50" height="12.90" fill="#ffffff" stroke="#173a4d" stroke-width="0.8"/>
<text x="12.10" y="361.80" font-size="7" fill="#111">A_IV_2_embryo</text>
<rect x="74.20" y="352.8" width="58.85" height="12.90" fill="#4a8fdb" stroke="#173a4d" stroke-width="0.8"/>
<text x="105.03" y="361.55" font-size="6.5" font-weight="bold" letter-spacing="0.6" fill="#101a28" text-anchor="middle">+++</text>
<rect x="133.05" y="352.8" width="58.85" height="12.90" fill="#d9e8f7" stroke="#173a4d" stroke-width="0.8"/>
<text x="163.88" y="361.55" font-size="6.5" font-weight="bold" letter-spacing="0.6" fill="#101a28" text-anchor="middle">+</text>
<rect x="191.90" y="352.8" width="58.85" height="12.90" fill="#d9e8f7" stroke="#173a4d" stroke-width="0.8"/>
<text x="222.72" y="361.55" font-size="6.5" font-weight="bold" letter-spacing="0.6" fill="#101a28" text-anchor="middle">+</text>
<rect x="250.75" y="352.8" width="58.85" height="12.90" fill="#a9caec" stroke="#173a4d" stroke-width="0.8"/>
<text x="281.57" y="361.55" font-size="6.5" font-weight="bold" letter-spacing="0.6" fill="#101a28" text-anchor="middle">++</text>
<rect x="309.60" y="352.8" width="58.85" height="12.90" fill="#4a8fdb" stroke="#173a4d" stroke-width="0.8"/>
<text x="340.42" y="361.55" font-size="6.5" font-weight="bold" letter-spacing="0.6" fill="#101a28" text-anchor="middle">+++</text>
<rect x="368.45" y="352.8" width="58.85" height="12.90" fill="#a9caec" stroke="#173a4d" stroke-width="0.8"/>
<text x="399.27" y="361.55" font-size="6.5" font-weight="bold" letter-spacing="0.6" fill="#101a28" text-anchor="middle">++</text>
<rect x="427.30" y="352.8" width="58.85" height="12.90" fill="#ffffff" stroke="#173a4d" stroke-width="0.8"/>
<text x="456.12" y="361.70" font-size="7" font-weight="normal" fill="#111" text-anchor="middle">no</text>
<rect x="486.15" y="352.8" width="58.85" height="12.90" fill="#4a8fdb" stroke="#173a4d" stroke-width="0.8"/>
<text x="516.98" y="361.55" font-size="6.5" font-weight="bold" letter-spacing="0.6" fill="#101a28" text-anchor="middle">+++</text>
<rect x="10.70" y="365.7" width="63.50" height="12.90" fill="#ffffff" stroke="#173a4d" stroke-width="0.8"/>
<text x="12.10" y="374.70" font-size="7" fill="#111">A_IV_2_medium</text>
<rect x="74.20" y="365.7" width="58.85" height="12.90" fill="#4a8fdb" stroke="#173a4d" stroke-width="0.8"/>
<text x="105.03" y="374.45" font-size="6.5" font-weight="bold" letter-spacing="0.6" fill="#101a28" text-anchor="middle">+++</text>
<rect x="133.05" y="365.7" width="58.85" height="12.90" fill="#a9caec" stroke="#173a4d" stroke-width="0.8"/>
<text x="163.88" y="374.45" font-size="6.5" font-weight="bold" letter-spacing="0.6" fill="#101a28" text-anchor="middle">++</text>
<rect x="191.90" y="365.7" width="58.85" height="12.90" fill="#a9caec" stroke="#173a4d" stroke-width="0.8"/>
<text x="222.72" y="374.45" font-size="6.5" font-weight="bold" letter-spacing="0.6" fill="#101a28" text-anchor="middle">++</text>
<rect x="250.75" y="365.7" width="58.85" height="12.90" fill="#4a8fdb" stroke="#173a4d" stroke-width="0.8"/>
<text x="281.57" y="374.45" font-size="6.5" font-weight="bold" letter-spacing="0.6" fill="#101a28" text-anchor="middle">+++</text>
<rect x="309.60" y="365.7" width="58.85" height="12.90" fill="#4a8fdb" stroke="#173a4d" stroke-width="0.8"/>
<text x="340.42" y="374.45" font-size="6.5" font-weight="bold" letter-spacing="0.6" fill="#101a28" text-anchor="middle">+++</text>
<rect x="368.45" y="365.7" width="58.85" height="12.90" fill="#a9caec" stroke="#173a4d" stroke-width="0.8"/>
<text x="399.27" y="374.45" font-size="6.5" font-weight="bold" letter-spacing="0.6" fill="#101a28" text-anchor="middle">++</text>
<rect x="427.30" y="365.7" width="58.85" height="12.90" fill="#4a8fdb" stroke="#173a4d" stroke-width="0.8"/>
<text x="458.12" y="374.45" font-size="6.5" font-weight="bold" letter-spacing="0.6" fill="#101a28" text-anchor="middle">+++</text>
<rect x="486.15" y="365.7" width="58.85" height="12.90" fill="#4a8fdb" stroke="#173a4d" stroke-width="0.8"/>
<text x="516.98" y="374.45" font-size="6.5" font-weight="bold" letter-spacing="0.6" fill="#101a28" text-anchor="middle">+++</text>
<rect x="10.70" y="378.6" width="63.50" height="13.00" fill="#ffffff" stroke="#173a4d" stroke-width="0.8"/>
<text x="12.10" y="387.60" font-size="7" fill="#111">A_IV_3_embryo</text>
<rect x="74.20" y="378.6" width="58.85" height="13.00" fill="#4a8fdb" stroke="#173a4d" stroke-width="0.8"/>
<text x="105.03" y="387.35" font-size="6.5" font-weight="bold" letter-spacing="0.6" fill="#101a28" text-anchor="middle">+++</text>
<rect x="133.05" y="378.6" width="58.85" height="13.00" fill="#d9e8f7" stroke="#173a4d" stroke-width="0.8"/>
<text x="163.88" y="387.35" font-size="6.5" font-weight="bold" letter-spacing="0.6" fill="#101a28" text-anchor="middle">+</text>
<rect x="191.90" y="378.6" width="58.85" height="13.00" fill="#4a8fdb" stroke="#173a4d" stroke-width="0.8"/>
<text x="222.72" y="387.35" font-size="6.5" font-weight="bold" letter-spacing="0.6" fill="#101a28" text-anchor="middle">+++</text>
<rect x="250.75" y="378.6" width="58.85" height="13.00" fill="#4a8fdb" stroke="#173a4d" stroke-width="0.8"/>
<text x="281.57" y="387.35" font-size="6.5" font-weight="bold" letter-spacing="0.6" fill="#101a28" text-anchor="middle">+++</text>
<rect x="309.60" y="378.6" width="58.85" height="13.00" fill="#4a8fdb" stroke="#173a4d" stroke-width="0.8"/>
<text x="340.42" y="387.35" font-size="6.5" font-weight="bold" letter-spacing="0.6" fill="#101a28" text-anchor="middle">+++</text>
<rect x="368.45" y="378.6" width="58.85" height="13.00" fill="#ffffff" stroke="#173a4d" stroke-width="0.8"/>
<text x="397.27" y="387.50" font-size="7" font-weight="normal" fill="#111" text-anchor="middle">no</text>
<rect x="427.30" y="378.6" width="58.85" height="13.00" fill="#ffffff" stroke="#173a4d" stroke-width="0.8"/>
<text x="456.12" y="387.50" font-size="7" font-weight="normal" fill="#111" text-anchor="middle">no</text>
<rect x="486.15" y="378.6" width="58.85" height="13.00" fill="#4a8fdb" stroke="#173a4d" stroke-width="0.8"/>
<text x="516.98" y="387.35" font-size="6.5" font-weight="bold" letter-spacing="0.6" fill="#101a28" text-anchor="middle">+++</text>
<rect x="10.70" y="391.6" width="63.50" height="13.00" fill="#ffffff" stroke="#173a4d" stroke-width="0.8"/>
<text x="12.10" y="400.60" font-size="7" fill="#111">A_IV_3_medium</text>
<rect x="74.20" y="391.6" width="58.85" height="13.00" fill="#4a8fdb" stroke="#173a4d" stroke-width="0.8"/>
<text x="105.03" y="400.35" font-size="6.5" font-weight="bold" letter-spacing="0.6" fill="#101a28" text-anchor="middle">+++</text>
<rect x="133.05" y="391.6" width="58.85" height="13.00" fill="#4a8fdb" stroke="#173a4d" stroke-width="0.8"/>
<text x="163.88" y="400.35" font-size="6.5" font-weight="bold" letter-spacing="0.6" fill="#101a28" text-anchor="middle">+++</text>
<rect x="191.90" y="391.6" width="58.85" height="13.00" fill="#4a8fdb" stroke="#173a4d" stroke-width="0.8"/>
<text x="222.72" y="400.35" font-size="6.5" font-weight="bold" letter-spacing="0.6" fill="#101a28" text-anchor="middle">+++</text>
<rect x="250.75" y="391.6" width="58.85" height="13.00" fill="#4a8fdb" stroke="#173a4d" stroke-width="0.8"/>
<text x="281.57" y="400.35" font-size="6.5" font-weight="bold" letter-spacing="0.6" fill="#101a28" text-anchor="middle">+++</text>
<rect x="309.60" y="391.6" width="58.85" height="13.00" fill="#4a8fdb" stroke="#173a4d" stroke-width="0.8"/>
<text x="340.42" y="400.35" font-size="6.5" font-weight="bold" letter-spacing="0.6" fill="#101a28" text-anchor="middle">+++</text>
<rect x="368.45" y="391.6" width="58.85" height="13.00" fill="#4a8fdb" stroke="#173a4d" stroke-width="0.8"/>
<text x="399.27" y="400.35" font-size="6.5" font-weight="bold" letter-spacing="0.6" fill="#101a28" text-anchor="middle">+++</text>
<rect x="427.30" y="391.6" width="58.85" height="13.00" fill="#4a8fdb" stroke="#173a4d" stroke-width="0.8"/>
<text x="458.12" y="400.35" font-size="6.5" font-weight="bold" letter-spacing="0.6" fill="#101a28" text-anchor="middle">+++</text>
<rect x="486.15" y="391.6" width="58.85" height="13.00" fill="#4a8fdb" stroke="#173a4d" stroke-width="0.8"/>
<text x="516.98" y="400.35" font-size="6.5" font-weight="bold" letter-spacing="0.6" fill="#101a28" text-anchor="middle">+++</text>
</g>
</svg>
</body></html>
